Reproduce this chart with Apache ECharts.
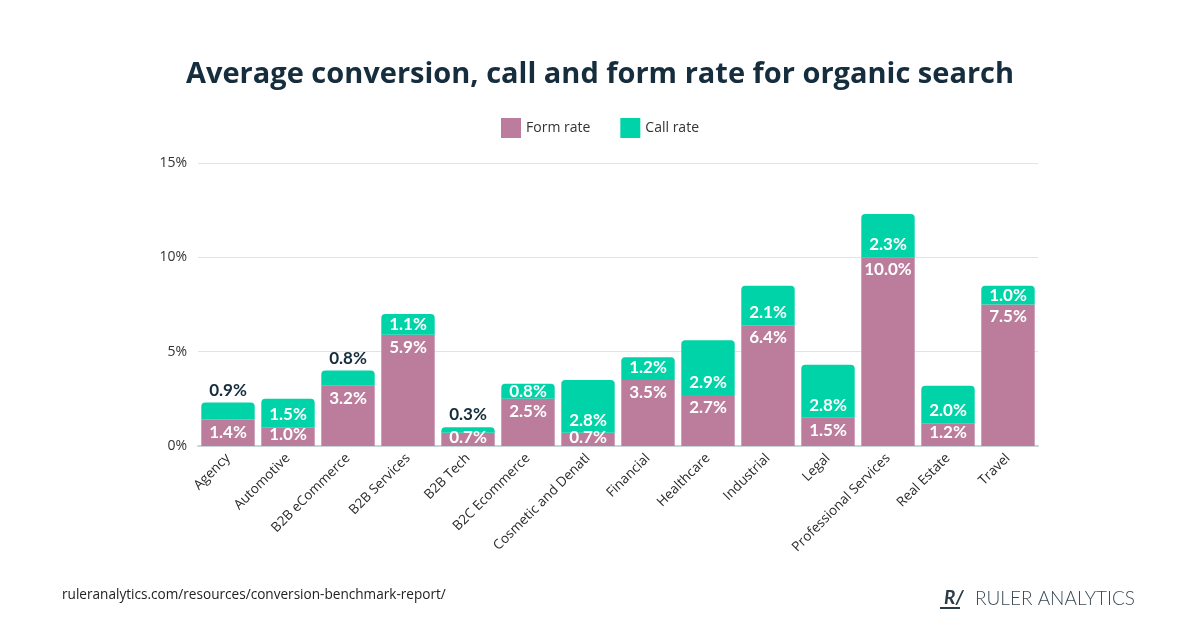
<!DOCTYPE html>
<html>
<head>
<meta charset="utf-8">
<script src="https://cdn.jsdelivr.net/npm/echarts@6/dist/echarts.min.js"></script>
<style>html,body{margin:0;padding:0;background:#fff}#c{width:1200px;height:628px}</style>
</head>
<body>
<div id="c"></div>
<script>
const categories = ["Agency","Automotive","B2B eCommerce","B2B Services","B2B Tech","B2C Ecommerce","Cosmetic and Denatl","Financial","Healthcare","Industrial","Legal","Professional Services","Real Estate","Travel"];
const formRate = [1.4,1.0,3.2,5.9,0.7,2.5,0.7,3.5,2.7,6.4,1.5,10.0,1.2,7.5];
const callRate = [0.9,1.5,0.8,1.1,0.3,0.8,2.8,1.2,2.9,2.1,2.8,2.3,2.0,1.0];
// 'top' = label above bar, 'inside' = centred, default insideBottom
const callLabelPos = ['top','insideBottom','top','inside','top','inside','insideBottom','insideBottom','insideBottom','insideBottom','insideBottom','insideBottom','insideBottom','inside'];
const yTicks = [0,5,10,15];

const FORM = '#bc7d9c', CALL = '#00d3a7', DARK = '#152d3c';
const chart = echarts.init(document.getElementById('c'));
chart.setOption({
  animation:false,
  backgroundColor:'#fff',
  title:{text:'Average conversion, call and form rate for organic search',left:'center',top:55,
    textStyle:{fontFamily:'Open Sans',fontWeight:'bold',fontSize:29,color:DARK}},
  legend:{top:113,left:'center',itemWidth:20,itemHeight:20,itemGap:30,icon:'rect',
    textStyle:{fontFamily:'Open Sans',fontSize:14,color:'#333'},data:['Form rate','Call rate']},
  grid:{left:198,right:162,top:163,bottom:182},
  xAxis:{type:'category',data:categories,
    axisLine:{lineStyle:{color:'#c9d3da',width:2}},axisTick:{show:false},
    axisLabel:{rotate:45,interval:0,fontFamily:'Open Sans',fontSize:13.5,color:'#2a2a2a',margin:10}},
  yAxis:{type:'value',min:0,max:15,interval:5,
    axisLabel:{formatter:v=>yTicks.includes(v)?v+'%':'',fontFamily:'Open Sans',fontSize:14,color:'#333',margin:11},
    splitLine:{lineStyle:{color:'#e3e3e3'}},axisLine:{show:false},axisTick:{show:false}},
  series:[
    {name:'Form rate',type:'bar',stack:'s',barWidth:'89%',
      data:formRate.map(v=>v<1.3?{value:v,label:{position:'inside',offset:[0,-2]}}:v),
      itemStyle:{color:FORM},
      label:{show:true,position:'insideTop',distance:4,formatter:p=>p.value.toFixed(1)+'%',
        fontFamily:'Lato',fontWeight:'bold',fontSize:17,color:'#fff'}},
    {name:'Call rate',type:'bar',stack:'s',barWidth:'89%',
      data:callRate.map((v,i)=>callLabelPos[i]==='top'?{value:v,label:{position:'top',color:DARK}}:
        callLabelPos[i]==='inside'?{value:v,label:{position:'inside'}}:v),
      itemStyle:{color:CALL,borderRadius:[4,4,0,0]},
      label:{show:true,position:'insideBottom',distance:4,formatter:p=>p.value.toFixed(1)+'%',
        fontFamily:'Lato',fontWeight:'bold',fontSize:17,color:'#fff'}}
  ],
  graphic:[
    {type:'text',left:62,top:588,style:{text:'ruleranalytics.com/resources/conversion-benchmark-report/',
      font:'13.6px "Open Sans"',fill:'#222'}},
    {type:'text',left:944,top:588,style:{text:'R/',font:'italic bold 19px "Lato"',fill:'#2b3b47'}},
    {type:'rect',shape:{x:940,y:607,width:20,height:2},style:{fill:'#2b3b47'}},
    {type:'text',left:975,top:589,style:{text:'RULER ANALYTICS',font:'300 19px "Lato"',fill:'#3a4a55'}}
  ]
});
</script>
</body>
</html>
